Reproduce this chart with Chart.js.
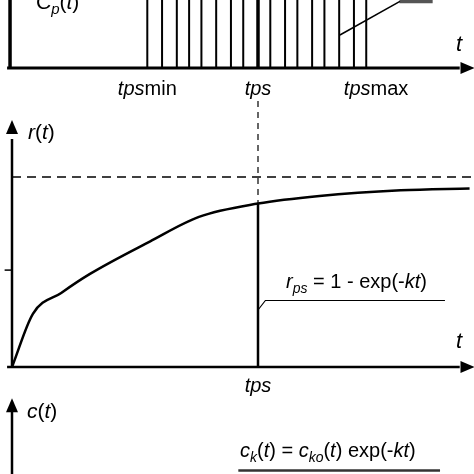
<!DOCTYPE html>
<html><head><meta charset="utf-8">
<script src="https://cdn.jsdelivr.net/npm/chart.js@4"></script>
<style>html,body{margin:0;padding:0;background:#fff}#w{width:474px;height:474px}</style>
</head><body><div id="w"><canvas id="c"></canvas></div>
<script>
// time units: tps = 1
const spikeTimes = [0.55,0.61,0.67,0.72,0.77,0.83,0.89,0.94,1.0,1.05,1.11,1.16,1.22,1.27,1.33,1.39,1.44];
const tickLabels = [{t:0.55,s:[['tps',1],['min',0]]},{t:1.0,s:[['tps',1]]},{t:1.48,s:[['tps',1],['max',0]]}];
const curveT = [0,0.085,0.2,0.317,0.56,0.76,1.0,1.25,1.58,1.86];
const curveR = [0,0.28,0.39,0.49,0.66,0.79,0.86,0.9,0.93,0.94];
const rTick = 0.51;

const T0=-12/246, T1=(474-12)/246;
const seg=(pts)=>pts.map(p=>({x:p[0],y:p[1]}));
const ln=(data,axis,w,extra)=>Object.assign({type:'line',data,yAxisID:axis,borderColor:'#000',borderWidth:w,pointRadius:0,fill:false,tension:0,spanGaps:false},extra||{});
const spikeData=[];spikeTimes.forEach(t=>{spikeData.push({x:t,y:0},{x:t,y:1.1},{x:t,y:null});});
const curve=curveT.map((t,i)=>({x:t,y:curveR[i]}));
const tpsR=curveR[curveT.indexOf(1.0)];

const datasets=[
 ln(spikeData,'yU',2),
 ln(seg([[1.0,0],[1.0,1.1]]),'yU',3.5),
 ln(seg([[-0.02,0],[1.82,0]]),'yU',3),
 ln(seg([[-0.008,0],[-0.008,1.1]]),'yU',3.5),
 ln(seg([[1.333,0.485],[1.577,0.98]]),'yU',1.5),
 ln(seg([[1.575,0.98],[1.71,0.98]]),'yU',4,{borderColor:'#555'}),
 ln(seg([[-0.02,0],[1.82,0]]),'yR',2.5),
 ln(seg([[0,0],[0,1.2]]),'yR',2.5),
 ln(seg([[0,1],[T1,1]]),'yR',1.5,{borderDash:[9,6]}),
 ln(seg([[-0.03,rTick],[0,rTick]]),'yR',1.5),
 ln(seg([[1.0,1.4],[1.0,tpsR]]),'yR',1.2,{borderDash:[6,5]}),
 ln(seg([[1.0,tpsR],[1.0,0]]),'yR',2.5),
 ln(curve,'yR',2.5,{tension:0.4,cubicInterpolationMode:'monotone'}),
 ln(seg([[1.0,0.3],[1.03,0.35],[1.76,0.35]]),'yR',1.2),
 ln(seg([[0,-0.6],[0,-0.2]]),'yR',2.5),
 ln(seg([[0.92,-0.545],[1.74,-0.545]]),'yR',2.5,{borderColor:'#333'})
];

function rich(ctx,x,y,segs,size,align){
 let w=0;const parts=segs.map(s=>{const sub=s[2];const f=(s[1]?'italic ':'')+(sub?Math.round(size*0.7):size)+'px "Liberation Sans", Arial, sans-serif';ctx.font=f;const m=ctx.measureText(s[0]).width;w+=m;return {t:s[0],f,m,sub};});
 let cx=align==='center'?x-w/2:x;
 parts.forEach(p=>{ctx.font=p.f;ctx.fillText(p.t,cx,p.sub?y+size*0.25:y);cx+=p.m;});
}
function arrow(ctx,x,y,dir){ctx.beginPath();if(dir==='r'){ctx.moveTo(x,y);ctx.lineTo(x-14,y-6);ctx.lineTo(x-14,y+6);}else{ctx.moveTo(x,y);ctx.lineTo(x-6,y+14);ctx.lineTo(x+6,y+14);}ctx.closePath();ctx.fill();}

const deco={id:'deco',afterDatasetsDraw(ch){
 const ctx=ch.ctx,sx=ch.scales.x,yU=ch.scales.yU,yR=ch.scales.yR;
 ctx.save();ctx.fillStyle='#000';ctx.textBaseline='alphabetic';
 arrow(ctx,sx.getPixelForValue(1.88),yU.getPixelForValue(0),'r');
 arrow(ctx,sx.getPixelForValue(1.88),yR.getPixelForValue(0),'r');
 arrow(ctx,sx.getPixelForValue(0),yR.getPixelForValue(1.3),'u');
 arrow(ctx,sx.getPixelForValue(0),yR.getPixelForValue(-0.165),'u');
 const X=sx.getPixelForValue.bind(sx);
 rich(ctx,36,9,[['C',0],['p',1,1],['(',0],['t',1],[')',0]],21);
 rich(ctx,456,51,[['t',1]],22);
 tickLabels.forEach(l=>rich(ctx,X(l.t),95,l.s,20,'center'));
 rich(ctx,28,139,[['r',1],['(',0],['t',1],[')',0]],21);
 rich(ctx,456,348,[['t',1]],22);
 rich(ctx,X(1.0),392,[['tps',1]],20,'center');
 rich(ctx,286,288,[['r',1],['ps',1,1],[' = 1 - exp(-',0],['k',1],['t',1],[')',0]],20);
 rich(ctx,27,418,[['c',1],['(',0],['t',1],[')',0]],21);
 rich(ctx,240,457,[['c',1],['k',1,1],['(',0],['t',1],[') = ',0],['c',1],['ko',1,1],['(',0],['t',1],[') exp(-',0],['k',1],['t',1],[')',0]],20);
 ctx.restore();}};

new Chart(document.getElementById('c'),{type:'line',data:{datasets},plugins:[deco],
 options:{responsive:true,maintainAspectRatio:false,animation:false,layout:{padding:0},
  plugins:{legend:{display:false},tooltip:{enabled:false}},
  scales:{x:{type:'linear',min:T0,max:T1,display:false},
   yU:{type:'linear',min:(68-474)/68,max:1,display:false},
   yR:{type:'linear',min:(367-474)/190,max:367/190,display:false}}}});
</script></body></html>
